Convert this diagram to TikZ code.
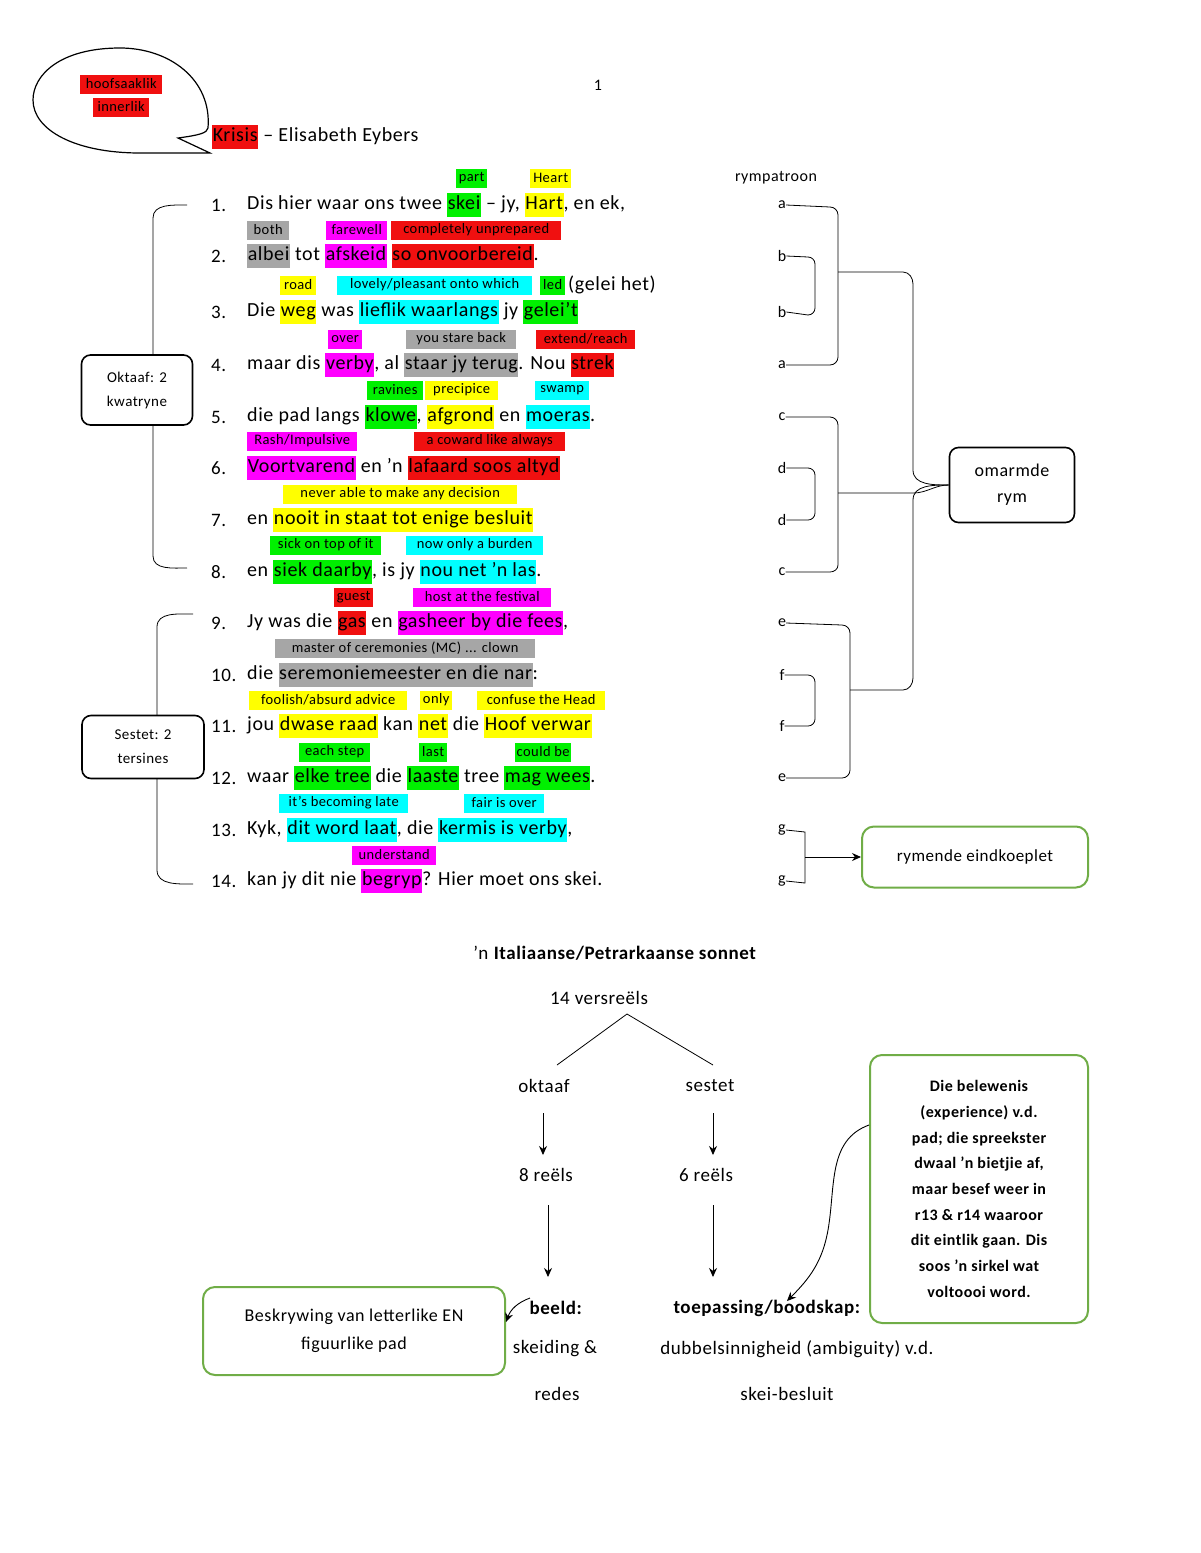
\documentclass[tikz,border=0pt]{standalone}
\usepackage{fontspec}
\setmainfont[LetterSpace=3]{Carlito}
\usetikzlibrary{arrows.meta}
\definecolor{hg}{HTML}{00F000}
\definecolor{hy}{HTML}{FFFF00}
\definecolor{hm}{HTML}{FF00FF}
\definecolor{hc}{HTML}{00FFFF}
\definecolor{hr}{HTML}{F01010}
\definecolor{hgr}{HTML}{A6A6A6}
\definecolor{bgreen}{HTML}{70AD47}
\newcommand{\hl}[2]{{\setlength\fboxsep{0.6pt}\colorbox{#1}{\strut #2}}}
\begin{document}
\begin{tikzpicture}[x=1pt,y=-1pt,
  main/.style={anchor=west,inner sep=0pt,font=\fontsize{20}{22}\selectfont},
  num/.style={anchor=west,inner sep=0pt,font=\fontsize{19}{21}\selectfont},
  lab/.style={anchor=west,inner sep=0pt,minimum height=19,font=\fontsize{14.5}{16}\selectfont},
  rl/.style={anchor=center,inner sep=0pt,font=\fontsize{16}{18}\selectfont},
  br/.style={line width=0.8pt},
  gbox/.style={draw=bgreen,fill=white,line width=2pt,rounded corners=12,align=center},
  kbox/.style={draw=black,fill=white,line width=1.6pt,rounded corners=9,align=center},
  txt/.style={inner sep=0pt,font=\fontsize{19}{21}\selectfont},
  arr/.style={-{Stealth[length=9pt,width=8pt]},line width=0.9pt}]
\useasboundingbox (0,0) rectangle (1200,1553);
% header
\draw[line width=1.2pt] (208,128) .. controls (212,80) and (170,48) .. (120,48)
  .. controls (60,48) and (33,75) .. (33,100)
  .. controls (33,130) and (75,153) .. (140,153) -- (210,153) -- (178,138)
  .. controls (200,135) and (207,133) .. (208,128);
\node[lab,fill=hr,minimum width=82] (h1) at (80,84) {hoofsaaklik};
\node[lab,fill=hr,minimum width=56] (h2) at (93,107) {innerlik};
\node[txt] (pg) at (598,85) {\fontsize{16}{18}\selectfont 1};
\node[main] (title) at (212,137) {\hl{hr}{Krisis} – Elisabeth Eybers};
\node[rl] (rym) at (776,178) {rympatroon};
% lines
\foreach \n/\y in {1/205,2/256,3/312,4/365,5/417,6/468,7/520,8/572,9/623,10/675,11/726,12/778,13/830,14/881}
  \node[num] (n\n) at (211,\y) {\n.};
\node[main] (l1) at (247,205) {Dis hier waar ons twee \hl{hg}{skei} – jy, \hl{hy}{Hart}, en ek,};
\node[main] (l2) at (247,256) {\hl{hgr}{albei} tot \hl{hm}{afskeid} \hl{hr}{so onvoorbereid}.};
\node[main] (l3) at (247,312) {Die \hl{hy}{weg} was \hl{hc}{lieflik waarlangs} jy \hl{hg}{gelei’t}};
\node[main] (l4) at (247,365) {maar dis \hl{hm}{verby}, al \hl{hgr}{staar jy terug}. Nou \hl{hr}{strek}};
\node[main] (l5) at (247,417) {die pad langs \hl{hg}{klowe}, \hl{hy}{afgrond} en \hl{hc}{moeras}.};
\node[main] (l6) at (247,468) {\hl{hm}{Voortvarend} en ’n \hl{hr}{lafaard soos altyd}};
\node[main] (l7) at (247,520) {en \hl{hy}{nooit in staat tot enige besluit}};
\node[main] (l8) at (247,572) {en \hl{hg}{siek daarby}, is jy \hl{hc}{nou net ’n las}.};
\node[main] (l9) at (247,623) {Jy was die \hl{hr}{gas} en \hl{hm}{gasheer by die fees},};
\node[main] (l10) at (247,675) {die \hl{hgr}{seremoniemeester en die nar}:};
\node[main] (l11) at (247,726) {jou \hl{hy}{dwase raad} kan \hl{hy}{net} die \hl{hy}{Hoof verwar}};
\node[main] (l12) at (247,778) {waar \hl{hg}{elke tree} die \hl{hg}{laaste} tree \hl{hg}{mag wees}.};
\node[main] (l13) at (247,830) {Kyk, \hl{hc}{dit word laat}, die \hl{hc}{kermis is verby},};
\node[main] (l14) at (247,881) {kan jy dit nie \hl{hm}{begryp}? Hier moet ons skei.};
% labels
\node[lab,fill=hg,minimum width=31] (a1) at (456,178) {part};
\node[lab,fill=hy,minimum width=41] (a2) at (530,178) {Heart};
\node[lab,fill=hgr,minimum width=42] (a3) at (247,230) {both};
\node[lab,fill=hm,minimum width=61] (a4) at (326,230) {farewell};
\node[lab,fill=hr,minimum width=170] (a5) at (391,230) {completely unprepared};
\node[lab,fill=hy,minimum width=36] (a6) at (280,285) {road};
\node[lab,fill=hc,minimum width=195] (a7) at (337,285) {lovely/pleasant onto which};
\node[lab,fill=hg,minimum width=25] (a8) at (540,285) {led};
\node[main] (a9) at (568,285) {(gelei het)};
\node[lab,fill=hm,minimum width=34] (a10) at (328,339) {over};
\node[lab,fill=hgr,minimum width=110] (a11) at (406,339) {you stare back};
\node[lab,fill=hr,minimum width=99] (a12) at (536,339) {extend/reach};
\node[lab,fill=hg,minimum width=56] (a13) at (367,390) {ravines};
\node[lab,fill=hy,minimum width=73] (a14) at (425,390) {precipice};
\node[lab,fill=hc,minimum width=54] (a15) at (535,390) {swamp};
\node[lab,fill=hm,minimum width=110] (a16) at (247,441) {Rash/Impulsive};
\node[lab,fill=hr,minimum width=151] (a17) at (414,441) {a coward like always};
\node[lab,fill=hy,minimum width=234] (a18) at (283,494) {never able to make any decision};
\node[lab,fill=hg,minimum width=111] (a19) at (270,545) {sick on top of it};
\node[lab,fill=hc,minimum width=137] (a20) at (406,545) {now only a burden};
\node[lab,fill=hr,minimum width=39] (a21) at (334,597) {guest};
\node[lab,fill=hm,minimum width=138] (a22) at (413,597) {host at the festival};
\node[lab,fill=hgr,minimum width=260] (a23) at (275,648) {master of ceremonies (MC) ... clown};
\node[lab,fill=hy,minimum width=158] (a24) at (249,700) {foolish/absurd advice};
\node[lab,fill=hy,minimum width=32] (a25) at (420,700) {only};
\node[lab,fill=hy,minimum width=128] (a26) at (477,700) {confuse the Head};
\node[lab,fill=hg,minimum width=71] (a27) at (299,752) {each step};
\node[lab,fill=hg,minimum width=28] (a28) at (419,752) {last};
\node[lab,fill=hg,minimum width=56] (a29) at (515,752) {could be};
\node[lab,fill=hc,minimum width=129] (a30) at (279,803) {it’s becoming late};
\node[lab,fill=hc,minimum width=80] (a31) at (464,803) {fair is over};
\node[lab,fill=hm,minimum width=84] (a32) at (352,855) {understand};
% rhyme letters
\foreach \l/\y/\k in {a/205/1,b/256/2,b/312/3,a/365/4,c/417/5,d/468/6,d/520/7,c/572/8,e/623/9,f/675/10,f/726/11,e/778/12,g/830/13,g/881/14}
  \node[rl] (r\k) at (782,\y) {\l};
\draw[br] (r1.east) -- (830,207) to[out=0,in=90] (838,215) -- (838,357) to[out=-90,in=0] (830,365) -- (r4.east);
\draw[br] (r2.east) -- (808,257) to[out=0,in=90] (815,264) -- (815,308) to[out=-90,in=0] (808,315) -- (r3.east);
\draw[br] (r5.east) -- (830,417) to[out=0,in=90] (838,425) -- (838,565) to[out=-90,in=0] (830,572) -- (r8.east);
\draw[br] (r6.east) -- (808,468) to[out=0,in=90] (815,475) -- (815,513) to[out=-90,in=0] (808,520) -- (r7.east);
\draw[br] (r9.east) -- (842,625) to[out=0,in=90] (850,633) -- (850,770) to[out=-90,in=0] (842,778) -- (r12.east);
\draw[br] (r10.east) -- (808,675) to[out=0,in=90] (815,682) -- (815,719) to[out=-90,in=0] (808,726) -- (r11.east);
\draw[br] (r13.east) -- (805,832) -- (805,883) -- (r14.east);
\node[gbox,minimum width=226,minimum height=61,font=\fontsize{17}{19}\selectfont] (koep) at (975,857) {rymende eindkoeplet};
\draw[arr] (805,857) -- (koep.west);
\node[kbox,minimum width=125,minimum height=75,font=\fontsize{18}{26}\selectfont] (om) at (1012,485) {omarmde\\rym};
\draw[br] (838,272) -- (903,272) to[out=0,in=90] (913,284) -- (913,470) to[out=-90,in=180] (om.west);
\draw[br] (838,493) -- (913,493) to[out=0,in=180] (om.west);
\draw[br] (850,690) -- (903,690) to[out=0,in=-90] (913,678) -- (913,500) to[out=90,in=180] (om.west);
% left brackets
\draw[br] (187,205) to[out=180,in=90] (153,218) -- (153,556) to[out=-90,in=180] (187,568);
\node[kbox,minimum width=111,minimum height=70,font=\fontsize{15}{24}\selectfont] (okt) at (137,390) {Oktaaf: 2\\kwatryne};
\draw[br] (193,614) to[out=180,in=90] (157,627) -- (157,870) to[out=-90,in=180] (193,884);
\node[kbox,minimum width=122,minimum height=63,font=\fontsize{15}{24}\selectfont] (ses) at (143,747) {Sestet: 2\\tersines};
% bottom
\node[txt] (son) at (615,953) {’n \textbf{Italiaanse/Petrarkaanse sonnet}};
\node[txt] (vers) at (599,998) {14 versreëls};
\coordinate (apex) at (627,1014);
\draw[br] (apex) -- (557,1065);
\draw[br] (apex) -- (713,1065);
\node[txt] (okt2) at (544,1086) {oktaaf};
\node[txt] (ses2) at (710,1086) {sestet};
\node[txt] (r8l) at (546,1175) {8 reëls};
\node[txt] (r6l) at (706,1175) {6 reëls};
\draw[arr] (543,1113) -- (543,1155);
\draw[arr] (713,1113) -- (713,1155);
\draw[arr] (548,1205) -- (548,1277);
\draw[arr] (713,1205) -- (713,1277);
\node[txt] (beeld) at (556,1308) {\textbf{beeld:}};
\node[txt] (ske) at (555,1349) {skeiding \&};
\node[txt] (red) at (557,1394) {redes};
\node[txt] (toe) at (767,1308) {\textbf{toepassing/boodskap:}};
\node[txt] (dub) at (797,1349) {dubbelsinnigheid (ambiguity) v.d.};
\node[txt] (skb) at (787,1394) {skei-besluit};
\node[gbox,minimum width=302,minimum height=88,font=\fontsize{18}{28}\selectfont] (besk) at (354,1331) {Beskrywing van letterlike EN\\figuurlike pad};
\draw[arr] (530,1298) to[out=200,in=70] (besk.north east |- 0,1322);
\node[gbox,minimum width=218,minimum height=268,font=\bfseries\fontsize{16}{25.7}\selectfont] (bel) at (979,1189) {Die belewenis\\(experience) v.d.\\pad; die spreekster\\dwaal ’n bietjie af,\\maar besef weer in\\r13 \& r14 waaroor\\dit eintlik gaan. Dis\\soos ’n sirkel wat\\voltoooi word.};
\draw[arr] (bel.west |- 0,1125) to[out=200,in=80] (828,1230) to[out=-100,in=45] (787,1301);
\end{tikzpicture}
\end{document}
